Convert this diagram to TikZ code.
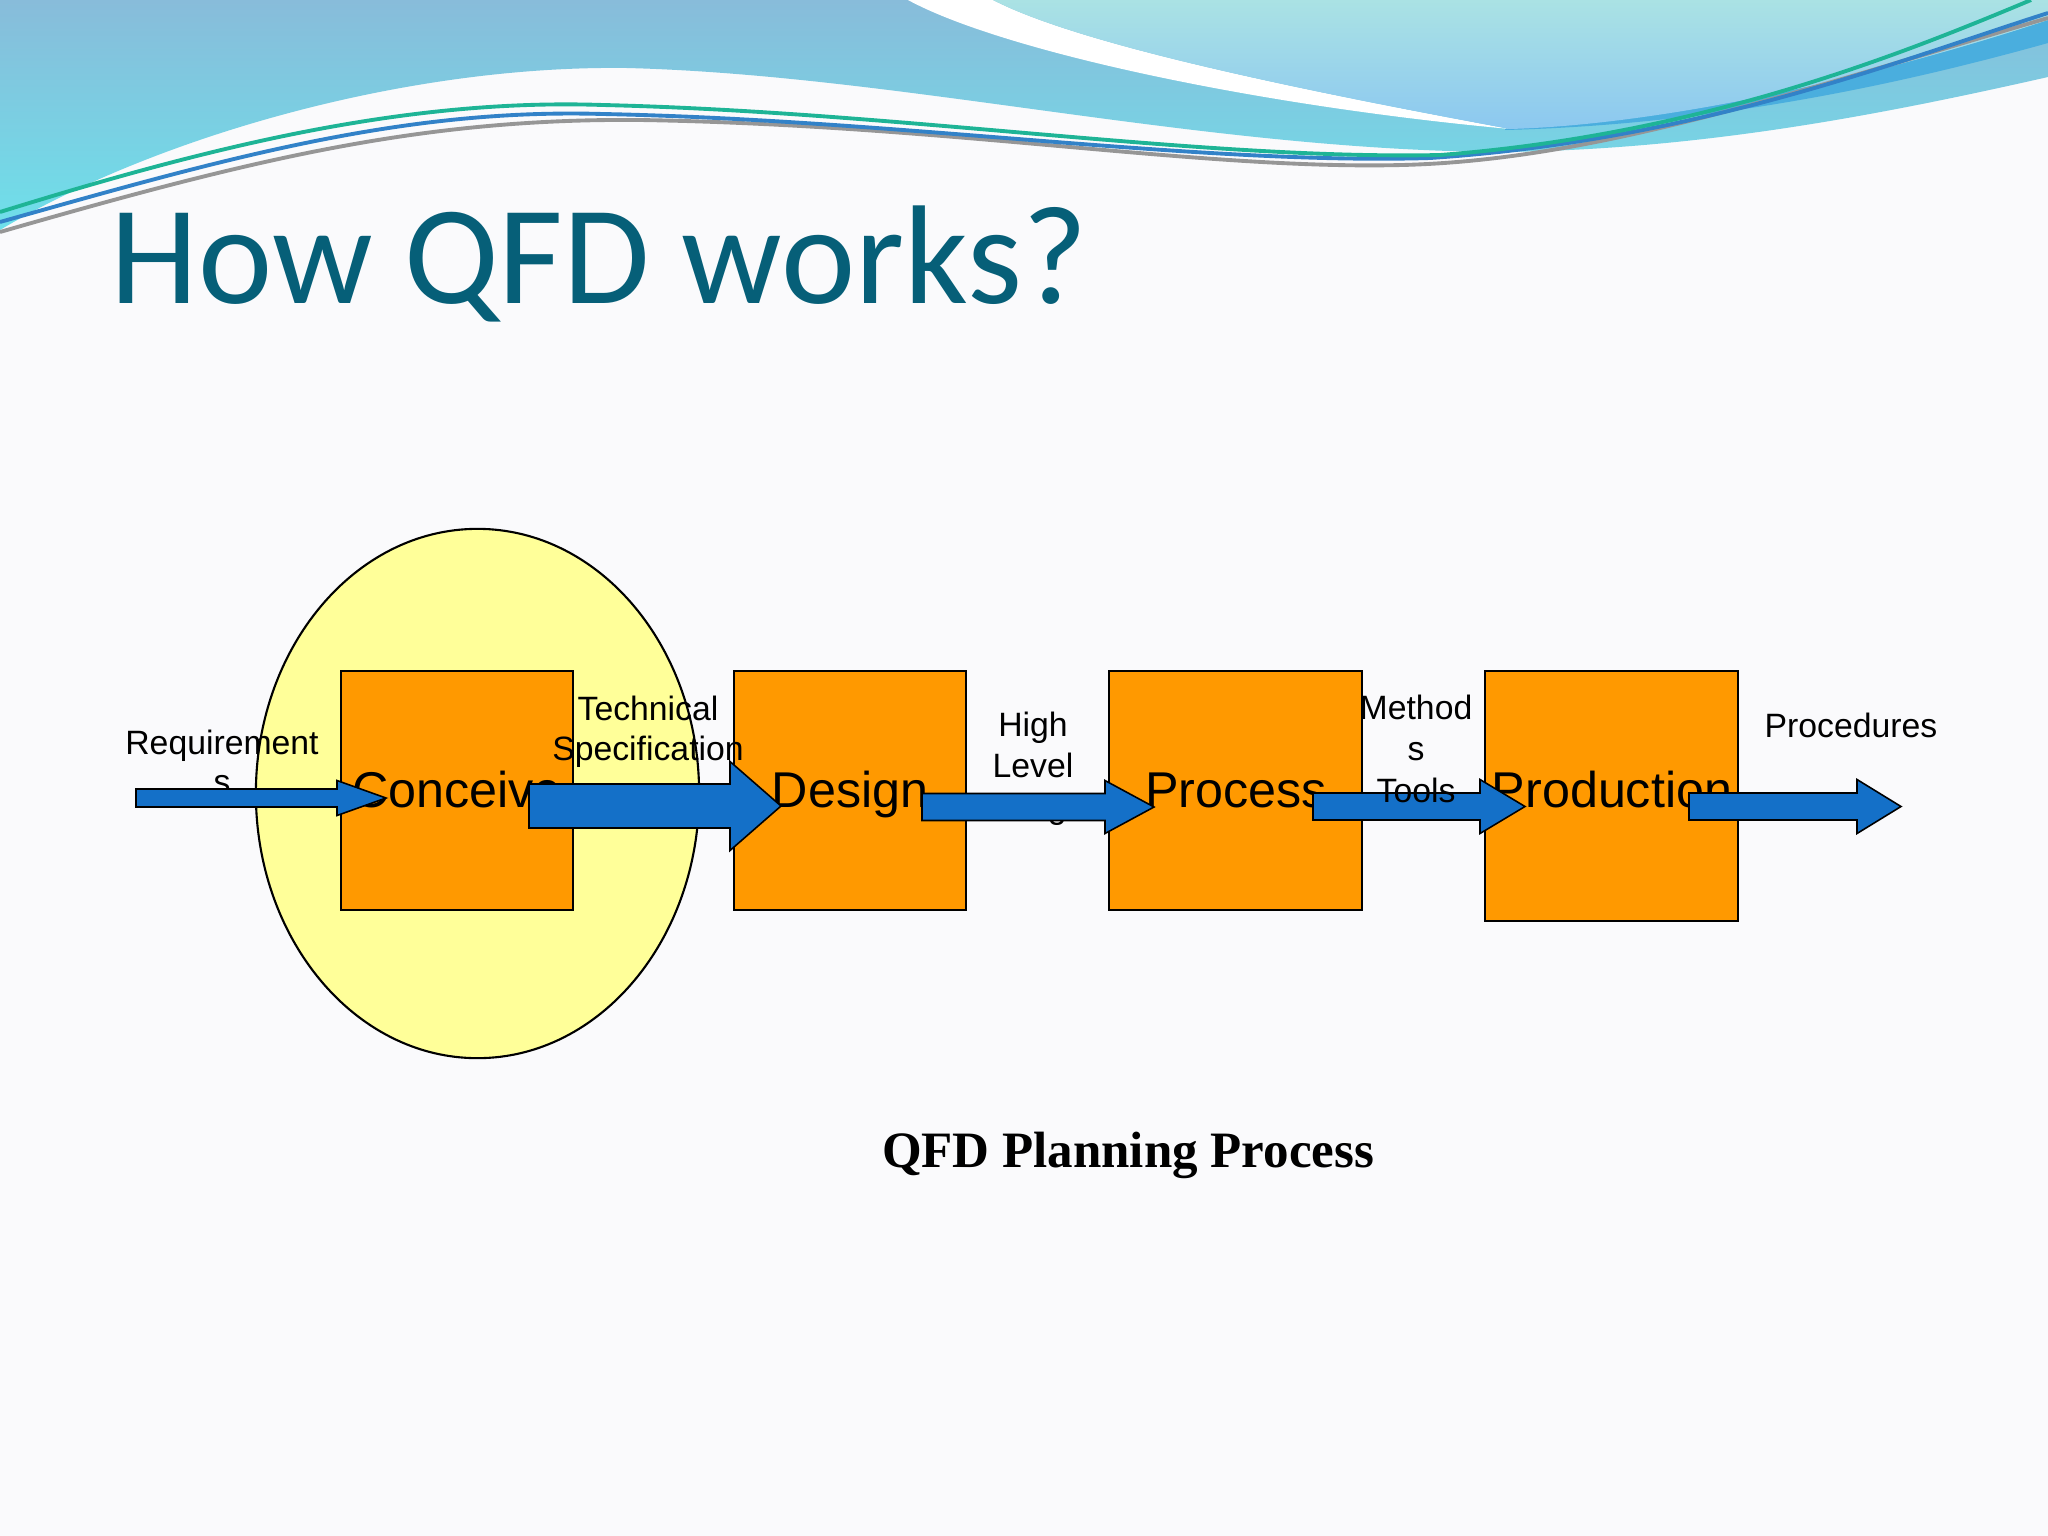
\documentclass[tikz,border=0pt]{standalone}
\usepackage{fontspec}
\setmainfont{Liberation Sans}
\newfontfamily\titlefont{Carlito}
\newfontfamily\capfont{Liberation Serif}
\usetikzlibrary{shapes.geometric,calc}
\definecolor{bgc}{RGB}{250,250,252}
\definecolor{titlec}{RGB}{6,95,120}
\definecolor{ellc}{RGB}{255,255,153}
\definecolor{boxc}{RGB}{255,153,0}
\definecolor{arrc}{RGB}{20,112,200}
\definecolor{wavetop}{RGB}{136,188,218}
\definecolor{wavebot}{RGB}{110,224,234}
\definecolor{trtop}{RGB}{170,226,228}
\definecolor{trbot}{RGB}{140,200,240}
\definecolor{bandc}{RGB}{74,174,222}
\definecolor{lgreen}{RGB}{30,180,150}
\definecolor{lblue}{RGB}{50,130,200}
\definecolor{lgray}{RGB}{150,150,150}
\tikzset{
  stagebox/.style={draw=black, line width=0.6pt, fill=boxc, rectangle, inner sep=0pt},
  stagetext/.style={anchor=base, inner sep=0pt, font=\fontsize{14.3}{16}\selectfont},
  lbl/.style={anchor=base, inner sep=0pt, font=\fontsize{9.6}{11}\selectfont},
  blockarrow/.style={draw=black, line width=0.45pt, fill=arrc, line join=miter},
  wline/.style={line width=1.1pt}
}
\newcommand\qfdarrow[7]{%
  \coordinate (#1-s) at (#2,#5);
  \coordinate (#1-e) at (#4,#5);
  \draw[blockarrow] ($(#1-s)+(0,-#6)$) -- (#3,#5-#6) -- (#3,#5-#7) -- (#1-e) -- (#3,#5+#7) -- (#3,#5+#6) -- ($(#1-s)+(0,#6)$) -- cycle;}
\begin{document}
\begin{tikzpicture}[x=0.01cm,y=-0.01cm]
\useasboundingbox (0,0) rectangle (2048,1536);
\fill[bgc] (0,0) rectangle (2048,1536);
% header waves
\shade[top color=wavetop, bottom color=wavebot]
  (0,0) -- (2048,0) -- (2048,77) .. controls (1880,115) and (1700,150) .. (1500,152)
  .. controls (1200,150) and (900,75) .. (627,68)
  .. controls (400,65) and (150,140) .. (0,230) -- cycle;
\fill[bandc] (1505,128) .. controls (1650,125) and (1850,85) .. (2048,20) -- (2048,43)
  .. controls (1880,90) and (1700,125) .. (1505,130) -- cycle;
\fill[white] (908,0) .. controls (1000,50) and (1250,105) .. (1510,129)
  .. controls (1300,90) and (1080,45) .. (993,0) -- cycle;
\shade[top color=trtop, bottom color=trbot]
  (993,0) .. controls (1080,45) and (1300,90) .. (1510,129)
  .. controls (1650,125) and (1850,85) .. (2048,20) -- (2048,0) -- cycle;
\draw[wline, lgray] (0,232) .. controls (250,160) and (420,118) .. (640,120)
  .. controls (950,125) and (1200,170) .. (1402,165) .. controls (1600,160) and (1800,90) .. (2048,18);
\draw[wline, lblue] (0,222) .. controls (220,160) and (400,108) .. (603,114)
  .. controls (900,120) and (1200,165) .. (1430,158) .. controls (1700,140) and (1900,60) .. (2048,13);
\draw[wline, lgreen] (0,212) .. controls (200,150) and (400,98) .. (603,105)
  .. controls (900,112) and (1200,160) .. (1440,155) .. controls (1700,135) and (1900,55) .. (2031,0);
% title
\node[anchor=base west, inner sep=0pt, text=titlec, font=\titlefont\fontsize{40}{44}\selectfont] (title) at (110,303) {How QFD works?};
% ellipse
\node[ellipse, draw=black, line width=0.6pt, fill=ellc, minimum width=4.43cm, minimum height=5.29cm, inner sep=0pt] (ell) at (477.5,793.5) {};
% boxes
\node[stagebox, minimum width=2.32cm, minimum height=2.39cm] (conceive) at (457,790.5) {};
\node[stagebox, minimum width=2.32cm, minimum height=2.39cm] (design) at (850,790.5) {};
\node[stagebox, minimum width=2.53cm, minimum height=2.39cm] (process) at (1235.5,790.5) {};
\node[stagebox, minimum width=2.53cm, minimum height=2.50cm] (production) at (1611.5,796) {};
\node[stagetext] (tconceive) at (457,807) {Conceive};
\node[stagetext] (tdesign) at (850,807) {Design};
\node[stagetext] (tprocess) at (1236,807) {Process};
\node[stagetext] (tproduction) at (1612,807) {Production};
% labels
\node[lbl] (req1) at (222,754) {Requirement};
\node[lbl] (req2) at (222,793) {s};
\node[lbl] (tech1) at (648,720) {Technical};
\node[lbl] (tech2) at (648,760) {Specification};
\node[lbl] (hl1) at (1033,736) {High};
\node[lbl] (hl2) at (1033,777) {Level};
\node[lbl] (hl3) at (1033,818) {Design};
\node[lbl] (m1) at (1416,719) {Method};
\node[lbl] (m2) at (1416,760) {s};
\node[lbl] (proc) at (1851,737) {Procedures};
% arrows
\qfdarrow{a1}{136}{337}{386}{798}{9}{17.5}
\qfdarrow{a2}{529}{730}{781}{806}{22}{44.5}
\qfdarrow{a3}{922}{1105}{1154}{807}{13.5}{26.5}
\qfdarrow{a4}{1313}{1480}{1525}{806.5}{13.5}{27}
\qfdarrow{a5}{1689}{1857}{1901}{806.5}{13.5}{27}
\node[lbl] (m3) at (1416,802) {Tools};
% caption
\node[anchor=base, inner sep=0pt, font=\capfont\bfseries\fontsize{14.5}{17}\selectfont] (caption) at (1128,1167) {QFD Planning Process};
\end{tikzpicture}
\end{document}
